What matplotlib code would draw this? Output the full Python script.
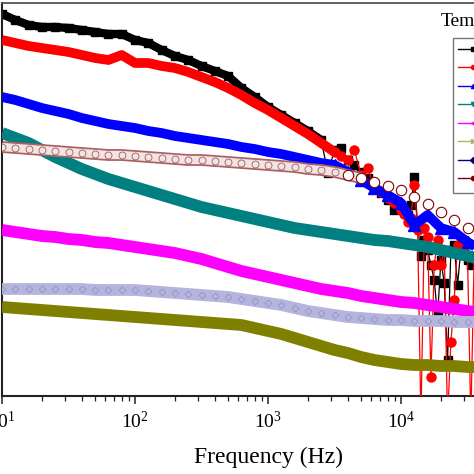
import numpy as np
import matplotlib
matplotlib.use("Agg")
import matplotlib.pyplot as plt
from matplotlib.lines import Line2D

plt.rcParams['font.family'] = ['Liberation Serif', 'DejaVu Serif']
plt.rcParams['mathtext.fontset'] = 'custom'
plt.rcParams['mathtext.rm'] = 'Liberation Serif'
plt.rcParams['mathtext.it'] = 'Liberation Serif:italic'

# ---------------- data (log10 of frequency in Hz, signal in a.u.) ----------------
grid_exp = [1.0, 1.1, 1.2, 1.3, 1.4, 1.5, 1.6, 1.7, 1.8, 1.9,
            2.0, 2.1, 2.2, 2.3, 2.4, 2.5, 2.6, 2.7, 2.8, 2.9,
            3.0, 3.1, 3.2, 3.3, 3.4, 3.5, 3.6, 3.7, 3.8, 3.9,
            4.0, 4.1, 4.2, 4.3, 4.4, 4.5, 4.6]

black_exp = [1.0, 1.1, 1.2, 1.3, 1.4, 1.5, 1.6, 1.7, 1.8, 1.9,
             2.0, 2.1, 2.2, 2.3, 2.4, 2.5, 2.6, 2.7, 2.8, 2.9,
             3.0, 3.1, 3.2, 3.3, 3.4, 3.45, 3.5, 3.55, 3.6, 3.65,
             3.7, 3.75, 3.8, 3.85, 3.9, 3.95, 4.0, 4.025, 4.05, 4.075,
             4.1, 4.125, 4.15, 4.175, 4.2, 4.225, 4.25, 4.275, 4.3, 4.325,
             4.35, 4.375, 4.4, 4.425, 4.45, 4.475, 4.5, 4.525, 4.55, 4.6]
black_val = [382, 376, 371, 369, 369, 368, 366, 364, 362, 362,
             356, 353, 346, 340, 336, 330, 325, 320, 308, 299,
             289, 281, 273, 265, 256, 223, 246, 248, 236, 231,
             224, 218, 210, 203, 196, 186, 191, 186, 181, 191,
             219, 171, 140, 156, 146, 131, 116, 80, 136, 113,
             36, 146, 151, 111, 146, 141, 136, 131, 134, 134]

red_exp = [1.0, 1.1, 1.2, 1.3, 1.4, 1.5, 1.6, 1.7, 1.8, 1.9,
           2.0, 2.1, 2.2, 2.3, 2.4, 2.5, 2.6, 2.7, 2.8, 2.9,
           3.0, 3.1, 3.2, 3.3, 3.4, 3.5, 3.55, 3.6, 3.65, 3.7,
           3.75, 3.8, 3.85, 3.9, 3.95, 4.0, 4.025, 4.05, 4.075, 4.1,
           4.125, 4.15, 4.175, 4.2, 4.225, 4.25, 4.275, 4.3, 4.325, 4.35,
           4.375, 4.4, 4.425, 4.45, 4.475, 4.5, 4.525, 4.55, 4.6]
red_val = [356, 353, 350, 348, 346, 344, 341, 338, 336, 341,
           333, 333, 330, 328, 324, 319, 314, 308, 301, 293,
           286, 278, 270, 262, 253, 244, 240, 236, 246, 221,
           228, 208, 204, 198, 193, 186, 182, 174, 178, 211,
           166, -24, 168, 159, 19, 131, 156, 131, 146, -24,
           54, 96, 151, 146, 148, 141, -24, 138, 138]

blue_val = [299, 296, 292, 288, 285, 282, 278, 275, 272, 270,
            268, 265, 263, 260, 258, 256, 254, 252, 249, 247,
            244, 242, 239, 236, 233, 231, 224, 216, 208, 201,
            193, 171, 181, 168, 164, 154, 146]

teal_val = [263, 258, 253, 246, 239, 233, 227, 222, 217, 213,
            209, 205, 201, 197, 193, 189, 186, 183, 180, 177,
            174, 171, 168, 166, 164, 162, 160, 158, 156, 155,
            153, 151, 149, 146, 143, 140, 137]

magenta_val = [166, 164, 162, 160, 159, 157, 156, 154, 153, 151,
               149, 147, 145, 143, 140, 137, 133, 129, 125, 122,
               119, 116, 113, 110, 107, 105, 103, 100, 98, 96,
               94, 93, 91, 89, 87, 85, 83]

olive_val = [89, 88, 87, 86, 85, 84, 83, 82, 81, 80,
             79, 78, 77, 76, 75, 74, 73, 72, 71, 68,
             65, 62, 58, 54, 50, 46, 43, 39, 36, 34,
             32, 31, 31, 30, 30, 29, 29]

navy_val = [107, 107, 107, 107, 107, 107, 107, 106, 106, 106,
            106, 105, 104, 103, 102, 101, 100, 99, 97, 95,
            93, 91, 88, 85, 83, 81, 79, 78, 77, 76,
            76, 75, 75, 75, 74, 74, 74]

wine_val = [249, 248, 247, 246, 245, 244, 243, 242, 241, 241,
            240, 239, 238, 237, 236, 236, 235, 234, 233, 232,
            231, 230, 229, 227, 226, 224, 221, 218, 214, 210,
            206, 199, 192, 184, 176, 168, 159]

legend_labels = ["30 °C", "40 °C", "50 °C", "60 °C", "70 °C", "80 °C", "90 °C", "100 °C"]

# ---------------- figure ----------------
W = H = 474
fig = plt.figure(figsize=(4.74, 4.74), dpi=100)
ax = fig.add_axes([2 / W, (H - 396) / H, 532 / W, 393 / H])
ax.set_xscale('log')
ax.set_xlim(10, 1e5)
ax.set_ylim(0, 393)

gexp = np.array(grid_exp)
gf = 10 ** gexp
bexp = np.array(black_exp)
rexp = np.array(red_exp)
bf = 10 ** bexp
rf = 10 ** rexp
bv = np.array(black_val)
rv = np.array(red_val)
wv = np.array(wine_val)
hi = gexp >= 3.5

# black squares
mb = bexp <= 3.4
ax.plot(bf[mb], bv[mb], color='k', lw=6, solid_capstyle='butt', zorder=2)
ax.plot(bf, bv, color='k', lw=0.9, marker='s', ms=5.5, mec='k', zorder=2)
# red circles
mr = rexp <= 3.5
ax.plot(rf[mr], rv[mr], color='#ff0000', lw=7, solid_capstyle='butt', zorder=3)
ax.plot(rf, rv, color='#ff0000', lw=0.9, zorder=3)
ax.plot(rf[rexp >= 3.5], rv[rexp >= 3.5], lw=0, marker='o', ms=6.5,
        color='#ff0000', zorder=3)
# blue triangles
ax.plot(gf, blue_val, color='#0000ff', lw=7, solid_capstyle='butt', zorder=4)
ax.plot(gf[hi], np.array(blue_val)[hi], color='#0000ff', lw=0, marker='^', ms=8, zorder=4)
# teal
ax.plot(gf, teal_val, color='#008080', lw=8.5, solid_capstyle='butt', zorder=5)
# magenta
ax.plot(gf, magenta_val, color='#ff00ff', lw=8.5, solid_capstyle='butt', zorder=6)
# olive
ax.plot(gf, olive_val, color='#808000', lw=8.5, solid_capstyle='butt', zorder=7)
# navy open markers (hatched look)
ax.plot(gf, navy_val, color='#b4b4dc', lw=8.5, solid_capstyle='butt', zorder=8)
ax.plot(gf, navy_val, color='#8585c0', lw=0, marker='D', ms=3.5, mfc='none', mew=0.4, zorder=8)
# wine open circles
mw = gexp <= 3.7
ax.plot(gf[mw], wv[mw], color='#a86060', lw=8.5, solid_capstyle='butt', zorder=9)
ax.plot(gf[mw], wv[mw], color='#f2e4e4', lw=6, solid_capstyle='butt', zorder=9)
ax.plot(gf[gexp < 3.6], wv[gexp < 3.6], lw=0, marker='o', ms=5, mfc='none',
        mec='#a05a5a', mew=0.6, zorder=9)
ax.plot(gf[gexp >= 3.6], wv[gexp >= 3.6], lw=0, marker='o', ms=7.5,
        mfc='white', mec='#800000', mew=0.8, zorder=9)

# axes styling
for s in ['left', 'bottom']:
    ax.spines[s].set_linewidth(1.5)
    ax.spines[s].set_color('#222222')
ax.spines['top'].set_linewidth(1.3)
ax.spines['top'].set_color('#555555')
ax.spines['right'].set_visible(False)
ax.tick_params(axis='y', left=False, labelleft=False)
ax.tick_params(axis='x', which='major', direction='out', length=6, width=1.1,
               labelsize=14, pad=5, color='#222222')
ax.tick_params(axis='x', which='minor', direction='out', length=3.5, width=0.9,
               color='#222222')
ax.set_xlabel('Frequency (Hz)', fontsize=17)
ax.xaxis.set_label_coords(0.5, -0.13)

# legend
colors = ['#000000', '#ff0000', '#0000ff', '#008080', '#ff00ff', '#b0b070', '#000080', '#800000']
markers = ['s', 'o', '^', 'v', '<', '>', 'D', 'o']
handles = [Line2D([], [], color=c, lw=1, marker=m, ms=3, mfc=c, mec=c)
           for c, m in zip(colors, markers)]
leg = fig.legend(handles, legend_labels, loc='upper left',
                 bbox_to_anchor=(453 / W, 1 - 38 / H), bbox_transform=fig.transFigure,
                 borderaxespad=0, fontsize=12, labelspacing=0.15, handlelength=1.8,
                 borderpad=0.27, fancybox=False, framealpha=1, edgecolor='#777777')
leg.get_frame().set_linewidth(1.0)
fig.text(441 / W, 1 - 22 / H, 'Temperature', fontsize=14, va='center', ha='left')

fig.savefig('out.png', dpi=100)
